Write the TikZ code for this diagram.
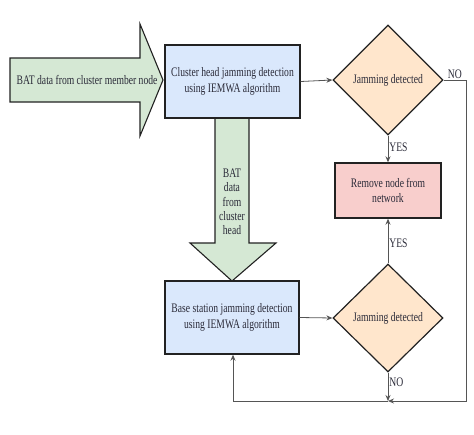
\documentclass[tikz,border=0pt]{standalone}
\usepackage{fontspec}
\setmainfont{Liberation Serif}[FakeStretch=0.74]
\usetikzlibrary{shapes.geometric,arrows.meta}
\definecolor{bgreen}{HTML}{D5E8D4}
\definecolor{bblue}{HTML}{DAE8FC}
\definecolor{borange}{HTML}{FFE6CC}
\definecolor{bred}{HTML}{F8CECC}
\definecolor{edge}{HTML}{222222}
\definecolor{wire}{HTML}{555555}
\definecolor{ink}{HTML}{2A2A38}
\begin{document}
\begin{tikzpicture}[x=1pt,y=-1pt,
  txt/.style={font=\fontsize{13}{15.5}\selectfont, text=ink, align=center},
  procbox/.style={txt, draw=edge, line width=1.4pt, inner sep=0pt},
  decide/.style={txt, diamond, draw=edge, line width=1.2pt, fill=borange, inner sep=0pt, minimum width=110pt, minimum height=110pt},
  bigarrow/.style={draw=edge, line width=1.1pt, fill=bgreen, line join=miter},
  wireline/.style={draw=wire, line width=0.8pt},
  tip/.style={-{Stealth[length=6pt,width=5pt]}},
  lbl/.style={font=\fontsize{13}{14}\selectfont, text=ink, inner sep=1pt}
]
\useasboundingbox (0,0) rectangle (474,434);
% big arrows
\draw[bigarrow] (10,58) -- (140,58) -- (140,24) -- (163,80) -- (140,136) -- (140,102) -- (10,102) -- cycle;
\node[txt] (inlabel) at (87,80) {BAT data from cluster member node};
\draw[bigarrow] (215,118) -- (249,118) -- (249,243) -- (276,243) -- (232,281) -- (190,243) -- (215,243) -- cycle;
\node[txt, font=\fontsize{13}{14.3}\selectfont] (downlabel) at (232,202) {BAT\\data\\from\\cluster\\head};
% boxes
\node[procbox, fill=bblue, minimum width=135pt, minimum height=73pt] (ch) at (232.5,81.5) {Cluster head jamming detection\\using IEMWA algorithm};
\node[procbox, fill=bblue, minimum width=134pt, minimum height=73pt] (bs) at (232,317.5) {Base station jamming detection\\using IEMWA algorithm};
\node[procbox, fill=bred, minimum width=106pt, minimum height=55pt] (rm) at (388,190.5) {Remove node from\\network};
% diamonds
\node[decide] (d1) at (388,80) {Jamming detected};
\node[decide, minimum height=108pt] (d2) at (388,318) {Jamming detected};
% connectors
\coordinate (c1) at (466,80);
\coordinate (c2) at (466,401);
\coordinate (c3) at (388,401);
\coordinate (c4) at (233,401);
\draw[wireline, tip] (ch.east) -- (d1.west);
\draw[wireline, tip] (bs.east) -- (d2.west);
\draw[wireline, tip] (d1.south) -- node[lbl, right, pos=0.45] {YES} (rm.north);
\draw[wireline, tip] (d2.north) -- node[lbl, right, pos=0.45] {YES} (rm.south);
\draw[wireline, tip] (d2.south) -- node[lbl, right, pos=0.35] {NO} (c3);
\draw[wireline, tip] (d1.east) -- (c1) -- (c2) -- (c3);
\draw[wireline, tip] (c3) -- (c4) -- (bs.south -| c4);
\node[lbl, anchor=south west, xshift=3pt] (nolbl) at (d1.east) {NO};
\end{tikzpicture}
\end{document}
